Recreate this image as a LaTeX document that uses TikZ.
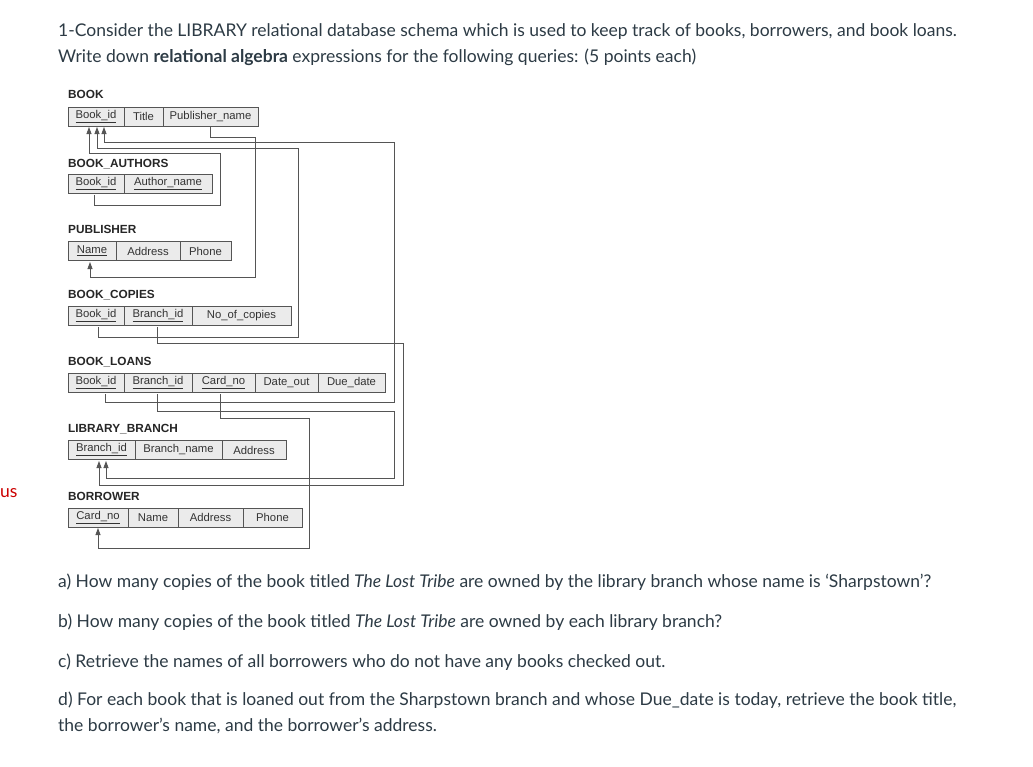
\documentclass[tikz,border=0pt]{standalone}
\usepackage{fontspec}
\setmainfont{Lato}
\newfontfamily\tabfont{Liberation Sans}
\usetikzlibrary{arrows.meta}
\definecolor{txt}{HTML}{2D3B45}
\definecolor{cellfill}{HTML}{EBEBEB}
\definecolor{ln}{HTML}{555555}
\tikzset{
 cell/.style={draw=ln,fill=cellfill,line width=0.7pt,minimum height=19pt,inner sep=0pt,font=\tabfont\fontsize{11.3}{13}\selectfont,text=black!80},
 tlabel/.style={anchor=base west,inner sep=0pt,font=\tabfont\bfseries\fontsize{11.8}{14}\selectfont,text=black!85},
 body/.style={anchor=base west,inner sep=0pt,font=\fontsize{17.5}{21}\selectfont,text=txt},
 fk/.style={draw=ln,line width=0.8pt},
 fka/.style={fk,-{Triangle[width=5pt,length=7pt]}}
}
\newcommand{\key}[1]{\underline{#1}}
\begin{document}
\begin{tikzpicture}[x=1pt,y=-1pt]
\useasboundingbox[fill=white] (0,0) rectangle (1033,766);
\node[body] (l1) at (58,36) {1-Consider the LIBRARY relational database schema which is used to keep track of books, borrowers, and book loans.};
\node[body] (l2) at (58,62) {Write down \textbf{relational algebra} expressions for the following queries: (5 points each)};
\node[body,text=red!80!black] (us) at (0,497) {us};
% BOOK
\node[tlabel] (tbook) at (68,98) {BOOK};
\node[cell,minimum width=56pt] (b1) at (96,116.5) {\key{Book\_id}};
\node[cell,minimum width=39pt] (b2) at (143.5,116.5) {Title};
\node[cell,minimum width=95pt] (b3) at (210.5,116.5) {Publisher\_name};
% BOOK_AUTHORS
\node[tlabel] (tba) at (68,167) {BOOK\_AUTHORS};
\node[cell,minimum width=56pt] (ba1) at (96,184) {\key{Book\_id}};
\node[cell,minimum width=88pt] (ba2) at (168,184) {\key{Author\_name}};
% PUBLISHER
\node[tlabel] (tpub) at (68,233) {PUBLISHER};
\node[cell,minimum width=48pt] (p1) at (92,251) {\key{Name}};
\node[cell,minimum width=64pt] (p2) at (148,251) {Address};
\node[cell,minimum width=51pt] (p3) at (205.5,251) {Phone};
% BOOK_COPIES
\node[tlabel] (tbc) at (68,298) {BOOK\_COPIES};
\node[cell,minimum width=56pt] (bc1) at (96,316) {\key{Book\_id}};
\node[cell,minimum width=68pt] (bc2) at (158,316) {\key{Branch\_id}};
\node[cell,minimum width=99pt] (bc3) at (241.5,316) {No\_of\_copies};
% BOOK_LOANS
\node[tlabel] (tbl) at (68,365) {BOOK\_LOANS};
\node[cell,minimum width=56pt] (bl1) at (96,383) {\key{Book\_id}};
\node[cell,minimum width=68pt] (bl2) at (158,383) {\key{Branch\_id}};
\node[cell,minimum width=63pt] (bl3) at (223.5,383) {\key{Card\_no}};
\node[cell,minimum width=63pt] (bl4) at (286.5,383) {Date\_out};
\node[cell,minimum width=67pt] (bl5) at (351.5,383) {Due\_date};
% LIBRARY_BRANCH
\node[tlabel] (tlb) at (68,432) {LIBRARY\_BRANCH};
\node[cell,minimum width=67pt] (lb1) at (101.5,450) {\key{Branch\_id}};
\node[cell,minimum width=87pt] (lb2) at (178.5,450) {Branch\_name};
\node[cell,minimum width=64pt] (lb3) at (254,450) {Address};
% BORROWER
\node[tlabel] (tbr) at (68,500) {BORROWER};
\node[cell,minimum width=60pt] (br1) at (98,517.5) {\key{Card\_no}};
\node[cell,minimum width=50pt] (br2) at (153,517.5) {Name};
\node[cell,minimum width=65pt] (br3) at (210.5,517.5) {Address};
\node[cell,minimum width=59pt] (br4) at (272.5,517.5) {Phone};
% connectors
\draw[fka] (94,195) -- (94,205) -- (220,205) -- (220,153) -- (89,153) -- (89,127);
\draw[fka] (98,327) -- (98,337) -- (298,337) -- (298,148) -- (97,148) -- (97,127);
\draw[fka] (105,394) -- (105,402) -- (394,402) -- (394,142) -- (104,142) -- (104,127);
\draw[fka] (210,127) -- (210,137) -- (255,137) -- (255,277) -- (90,277) -- (90,262);
\draw[fka] (157,327) -- (157,343) -- (403,343) -- (403,485) -- (99,485) -- (99,461);
\draw[fka] (157,394) -- (157,411) -- (394,411) -- (394,478) -- (106,478) -- (106,461);
\draw[fka] (220,394) -- (220,418) -- (309,418) -- (309,548) -- (98,548) -- (98,528);
% questions
\node[body] (qa) at (58,587) {a) How many copies of the book titled \textit{The Lost Tribe} are owned by the library branch whose name is `Sharpstown'?};
\node[body] (qb) at (58,627) {b) How many copies of the book titled \textit{The Lost Tribe} are owned by each library branch?};
\node[body] (qc) at (58,667) {c) Retrieve the names of all borrowers who do not have any books checked out.};
\node[body] (qd) at (58,705) {d) For each book that is loaned out from the Sharpstown branch and whose Due\_date is today, retrieve the book title,};
\node[body] (qd2) at (58,731) {the borrower's name, and the borrower's address.};
\end{tikzpicture}
\end{document}
